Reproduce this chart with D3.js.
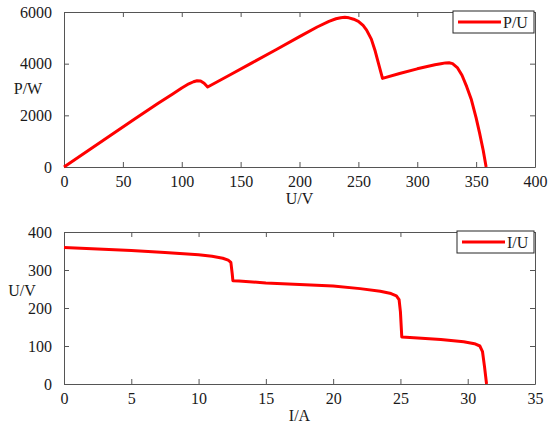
<!DOCTYPE html>
<html>
<head>
<meta charset="utf-8">
<script src="https://cdn.jsdelivr.net/npm/d3@7"></script>
<style>
  body { margin: 0; background: #fff; }
  svg text { font-family: "Liberation Serif", "Times New Roman", serif !important; fill: #1a1a1a; }
</style>
</head>
<body>
<svg id="chart" width="550" height="424"></svg>
<script>
// P-U curve (top)
var puVoltage = [0, 20, 40, 60, 80, 92, 100, 106, 110, 113, 116, 119, 122,
    140, 160, 180, 200, 215, 225, 231, 235, 238.5, 242, 246, 250, 254, 257, 261, 264, 267, 270.5,
    285, 300, 315, 320, 324, 327, 330, 334, 338, 342, 346, 350, 353, 356, 358.5];
var puPower = [0, 620, 1240, 1860, 2470, 2820, 3060, 3220, 3300, 3340, 3330, 3240, 3095,
    3540, 4040, 4540, 5045, 5420, 5640, 5740, 5780, 5795, 5775, 5720, 5640, 5480, 5300, 4950, 4530, 4020, 3430,
    3620, 3800, 3960, 4000, 4030, 4035, 4000, 3850, 3550, 3110, 2600, 1900, 1300, 650, 0];

// I-U curve (bottom)
var iuCurrent = [0, 2.5, 5, 7.5, 10, 11, 11.8, 12.2, 12.4, 12.5, 12.55, 13, 15, 17.5, 20, 22, 23.5,
    24.3, 24.7, 24.9, 25.0, 25.1, 26, 28, 29.7, 30.5, 30.9, 31.1, 31.25, 31.4];
var iuVoltage = [359, 355, 351, 346, 340, 336, 331, 326, 320, 290, 272, 271, 266, 262, 258, 251, 244,
    238, 232, 222, 190, 124, 122, 117, 111, 106, 100, 85, 45, 0];

var topXTicks = [0, 50, 100, 150, 200, 250, 300, 350, 400];
var topYTicks = [0, 2000, 4000, 6000];
var botXTicks = [0, 5, 10, 15, 20, 25, 30, 35];
var botYTicks = [0, 100, 200, 300, 400];

var svg = d3.select("#chart");
var axisColor = "#555";
var lineColor = "#ff0000";
var fmt = d3.format("d");

function drawPanel(opt) {
    var g = svg.append("g");
    var x = d3.scaleLinear().domain(opt.xDomain).range([opt.left, opt.right]);
    var y = d3.scaleLinear().domain(opt.yDomain).range([opt.bottom, opt.top]);

    // inward ticks on all four sides
    var bottomAxis = g.append("g").attr("transform", "translate(0," + opt.bottom + ")")
        .call(d3.axisBottom(x).tickValues(opt.xTicks).tickFormat(fmt).tickSizeInner(-5).tickSizeOuter(0).tickPadding(9));
    var topAxis = g.append("g").attr("transform", "translate(0," + opt.top + ")")
        .call(d3.axisTop(x).tickValues(opt.xTicks).tickSizeInner(-5).tickSizeOuter(0).tickFormat(""));
    var leftAxis = g.append("g").attr("transform", "translate(" + opt.left + ",0)")
        .call(d3.axisLeft(y).tickValues(opt.yTicks).tickFormat(fmt).tickSizeInner(-5).tickSizeOuter(0).tickPadding(12));
    var rightAxis = g.append("g").attr("transform", "translate(" + opt.right + ",0)")
        .call(d3.axisRight(y).tickValues(opt.yTicks).tickSizeInner(-5).tickSizeOuter(0).tickFormat(""));

    [bottomAxis, topAxis, leftAxis, rightAxis].forEach(function(a) {
        a.attr("font-family", null);
        a.selectAll("path, line").attr("stroke", axisColor).attr("stroke-width", 1);
        a.selectAll("text").attr("font-size", 16).attr("fill", "#1a1a1a");
    });

    var line = d3.line()
        .x(function(d) { return x(d[0]); })
        .y(function(d) { return y(d[1]); });

    g.append("path")
        .datum(opt.xs.map(function(v, i) { return [v, opt.ys[i]]; }))
        .attr("fill", "none")
        .attr("stroke", lineColor)
        .attr("stroke-width", 3)
        .attr("stroke-linejoin", "round")
        .attr("d", line);

    // axis labels
    g.append("text").attr("x", (opt.left + opt.right) / 2).attr("y", opt.bottom + 37)
        .attr("text-anchor", "middle").attr("font-size", 16).text(opt.xLabel);
    g.append("text").attr("x", opt.yLabelX).attr("y", opt.yLabelY)
        .attr("text-anchor", "middle").attr("font-size", 16).text(opt.yLabel);

    // legend
    var lg = g.append("g").attr("transform", "translate(" + opt.legendX + "," + (opt.top - 1) + ")");
    lg.append("rect").attr("width", opt.right - opt.legendX - 1).attr("height", 22)
        .attr("fill", "#fff").attr("stroke", "#262626").attr("stroke-width", 1);
    lg.append("line").attr("x1", 5).attr("x2", 48).attr("y1", 11).attr("y2", 11)
        .attr("stroke", lineColor).attr("stroke-width", 3);
    lg.append("text").attr("x", 50).attr("y", 16.5).attr("font-size", 16).text(opt.legend);
}

drawPanel({
    left: 64, right: 535, top: 12, bottom: 167,
    xDomain: [0, 400], yDomain: [0, 6000],
    xTicks: topXTicks, yTicks: topYTicks,
    xs: puVoltage, ys: puPower,
    xLabel: "U/V", yLabel: "P/W", yLabelX: 28, yLabelY: 94,
    legend: "P/U", legendX: 453
});

drawPanel({
    left: 64, right: 535, top: 232, bottom: 384,
    xDomain: [0, 35], yDomain: [0, 400],
    xTicks: botXTicks, yTicks: botYTicks,
    xs: iuCurrent, ys: iuVoltage,
    xLabel: "I/A", yLabel: "U/V", yLabelX: 22, yLabelY: 296,
    legend: "I/U", legendX: 457
});
</script>
</body>
</html>
